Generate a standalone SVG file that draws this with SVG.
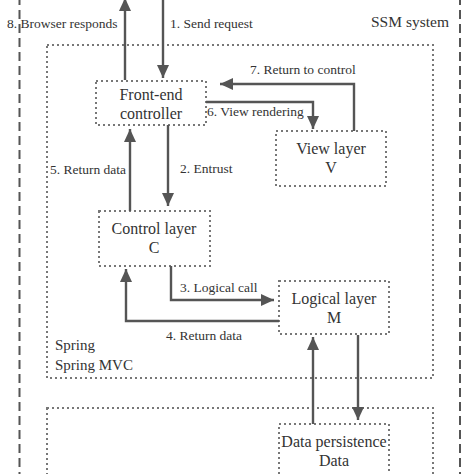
<svg xmlns="http://www.w3.org/2000/svg" width="474" height="474" viewBox="0 0 474 474">
<defs>
<style>
.dot{fill:none;stroke:#777;stroke-width:2;stroke-dasharray:2 3}
.dash{fill:none;stroke:#555;stroke-width:2;stroke-dasharray:9 5}
.ln{fill:none;stroke:#555;stroke-width:2.4}
.t{font-family:"Liberation Serif",serif;font-size:16px;fill:#333;text-anchor:middle}
.l{font-family:"Liberation Serif",serif;font-size:13.5px;fill:#333}
</style>
<marker id="ah" markerUnits="userSpaceOnUse" markerWidth="14" markerHeight="12" refX="13" refY="6" orient="auto">
<path d="M0,0 L13,6 L0,12 z" fill="#555"/>
</marker>
</defs>
<rect width="474" height="474" fill="#fff"/>
<g id="ssm">
<line class="dash" x1="19.5" y1="-4" x2="19.5" y2="480"/>
<line class="dash" x1="460" y1="-4" x2="460" y2="480"/>
<text class="l" x="371" y="27" style="font-size:15.5px">SSM system</text>
</g>
<g id="spring">
<rect class="dot" x="47" y="45" width="386" height="333"/>
<text class="l" x="55" y="350" style="font-size:15px">Spring</text>
<text class="l" x="55" y="370" style="font-size:15px">Spring MVC</text>
</g>
<g id="persist-area">
<rect class="dot" x="47" y="408" width="386" height="80"/>
</g>
<g id="frontend">
<rect class="dot" x="96" y="81" width="110" height="44"/>
<text class="t" x="151" y="100">Front-end</text>
<text class="t" x="151" y="119">controller</text>
</g>
<g id="view">
<rect class="dot" x="276" y="131" width="110" height="55"/>
<text class="t" x="331" y="154">View layer</text>
<text class="t" x="331" y="173">V</text>
</g>
<g id="control">
<rect class="dot" x="99" y="211" width="111" height="55"/>
<text class="t" x="154" y="234">Control layer</text>
<text class="t" x="154" y="253">C</text>
</g>
<g id="logical">
<rect class="dot" x="279" y="281" width="110" height="53"/>
<text class="t" x="334" y="304">Logical layer</text>
<text class="t" x="334" y="323">M</text>
</g>
<g id="data">
<rect class="dot" x="279" y="424" width="110" height="60"/>
<text class="t" x="334" y="447">Data persistence</text>
<text class="t" x="334" y="466">Data</text>
</g>
<g id="connectors">
<line class="ln" x1="125" y1="80" x2="125" y2="-2" marker-end="url(#ah)"/>
<line class="ln" x1="163" y1="-2" x2="163" y2="78" marker-end="url(#ah)"/>
<polyline class="ln" points="354,131 354,84 220,84" marker-end="url(#ah)"/>
<polyline class="ln" points="206,102 313,102 313,129" marker-end="url(#ah)"/>
<line class="ln" x1="130" y1="211" x2="130" y2="129" marker-end="url(#ah)"/>
<line class="ln" x1="168" y1="125" x2="168" y2="206" marker-end="url(#ah)"/>
<polyline class="ln" points="171,266 171,300 274,300" marker-end="url(#ah)"/>
<polyline class="ln" points="279,321 126,321 126,269" marker-end="url(#ah)"/>
<line class="ln" x1="358" y1="335" x2="358" y2="420" marker-end="url(#ah)"/>
<line class="ln" x1="313" y1="424" x2="313" y2="337" marker-end="url(#ah)"/>
<text class="l" x="7" y="28">8. Browser responds</text>
<text class="l" x="170" y="28">1. Send request</text>
<text class="l" x="250" y="74">7. Return to control</text>
<text class="l" x="207" y="116">6. View rendering</text>
<text class="l" x="50" y="174">5. Return data</text>
<text class="l" x="180" y="173">2. Entrust</text>
<text class="l" x="180" y="292">3. Logical call</text>
<text class="l" x="166" y="340">4. Return data</text>
</g>
</svg>
